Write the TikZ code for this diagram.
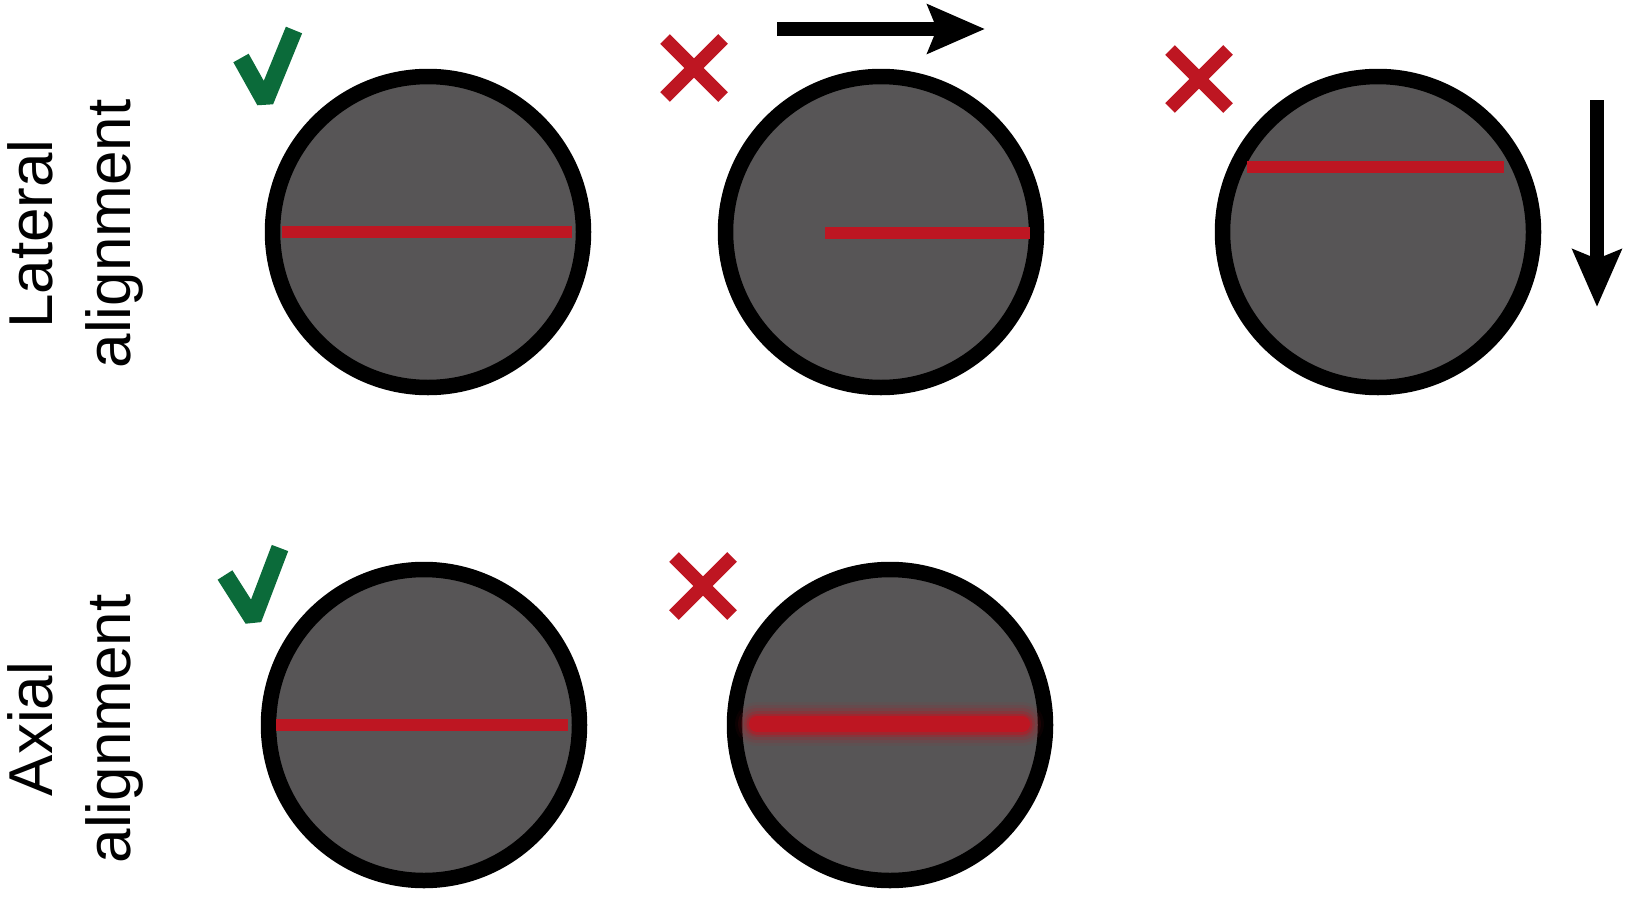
\documentclass[tikz,border=0pt]{standalone}
\usepackage{fontspec}
\setmainfont{Liberation Sans}
\usetikzlibrary{arrows.meta}
\definecolor{discgray}{HTML}{575556}
\definecolor{barred}{HTML}{BE1622}
\definecolor{okgreen}{HTML}{0B6B3A}
\tikzset{
  disc/.style={circle, draw=black, fill=discgray, line width=15.5pt, minimum size=311pt, inner sep=0pt, outer sep=0pt},
  redbar/.style={draw=barred, line width=12pt, line cap=butt},
  glowbar/.style={draw=barred, line cap=round},
  okmark/.style={draw=okgreen, line width=17.5pt, line join=bevel, line cap=butt},
  nomark/.style={draw=barred, line width=13.5pt, line cap=butt},
  movearrow/.style={draw=black, line width=14pt, -{Stealth[length=57pt,width=48pt,inset=9pt]}},
  rowlabel/.style={rotate=90, align=center, inner sep=0pt, font=\fontsize{62}{78}\selectfont}
}
\begin{document}
\begin{tikzpicture}[x=1pt,y=-1pt]
\useasboundingbox (0,0) rectangle (1627,897);
% labels
\node[rowlabel] (lat) at (75,234) {Lateral\\alignment};
\node[rowlabel] (ax) at (75,729) {Axial\\alignment};
% discs
\node[disc] (c1) at (428,232) {};
\node[disc] (c2) at (881,232) {};
\node[disc] (c3) at (1378,232) {};
\node[disc] (c4) at (424,725) {};
\node[disc] (c5) at (890,725) {};
% red bars
\draw[redbar] ([xshift=-146pt]c1.center) -- ([xshift=144pt]c1.center);
\draw[redbar] ([xshift=-56pt,yshift=-1pt]c2.center) -- ([xshift=149pt,yshift=-1pt]c2.center);
\draw[redbar] ([xshift=-131pt,yshift=65pt]c3.center) -- ([xshift=126pt,yshift=65pt]c3.center);
\draw[redbar] ([xshift=-148pt]c4.center) -- ([xshift=144pt]c4.center);
% blurred bar
\coordinate (b5l) at ([xshift=-133pt,yshift=1pt]c5.center);
\coordinate (b5r) at ([xshift=132pt,yshift=1pt]c5.center);
\draw[glowbar, line width=44pt, opacity=0.06] (b5l) -- (b5r);
\draw[glowbar, line width=38pt, opacity=0.1] (b5l) -- (b5r);
\draw[glowbar, line width=32pt, opacity=0.15] (b5l) -- (b5r);
\draw[glowbar, line width=26pt, opacity=0.25] (b5l) -- (b5r);
\draw[glowbar, line width=21pt, opacity=0.45] (b5l) -- (b5r);
\draw[glowbar, line width=16pt, opacity=1] (b5l) -- (b5r);
% check marks
\coordinate (k1a) at (241,58); \coordinate (k1b) at (265,101); \coordinate (k1c) at (294,30);
\draw[okmark] (k1a) -- (k1b) -- (k1c);
\coordinate (k4a) at (225,575); \coordinate (k4b) at (253,619); \coordinate (k4c) at (280,548);
\draw[okmark] (k4a) -- (k4b) -- (k4c);
% crosses
\foreach \n/\cx/\cy in {x2/694/68, x3/1199/79, x5/703/586}{
  \coordinate (\n) at (\cx,\cy);
  \draw[nomark] ([xshift=-29pt,yshift=-29pt]\n) -- ([xshift=29pt,yshift=29pt]\n);
  \draw[nomark] ([xshift=-29pt,yshift=29pt]\n) -- ([xshift=29pt,yshift=-29pt]\n);
}
% arrows
\coordinate (a2s) at (777,29); \coordinate (a2e) at (985,29);
\draw[movearrow] (a2s) -- (a2e);
\coordinate (a3s) at (1597,100); \coordinate (a3e) at (1597,307);
\draw[movearrow] (a3s) -- (a3e);
\end{tikzpicture}
\end{document}
